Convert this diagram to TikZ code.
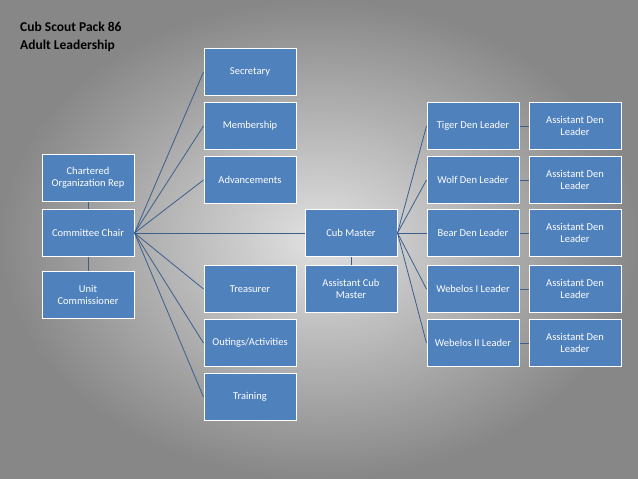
\documentclass[tikz,border=0pt]{standalone}
\usepackage{fontspec}
\setmainfont{Carlito}
\begin{document}
\begin{tikzpicture}[x=1pt,y=-1pt,
 box/.style={draw=white,line width=1pt,fill={rgb,255:red,79;green,129;blue,189},text=white,minimum width=92pt,minimum height=47pt,inner sep=1pt,align=center,font=\fontsize{10.5}{12.5}\selectfont},
 ln/.style={draw={rgb,255:red,60;green,95;blue,140},line width=0.8pt}]
\shade[inner color={rgb,255:red,225;green,225;blue,225},outer color={rgb,255:red,135;green,135;blue,135}] (0,0) rectangle (638,479);
\useasboundingbox (0,0) rectangle (638,479);
\node[anchor=north west,align=left,inner sep=0pt,font=\bfseries\fontsize{13.5}{18}\selectfont] (title) at (20,22) {Cub Scout Pack 86\\Adult Leadership};
\node[box] (cor) at (88,178) {Chartered\\Organization Rep};
\node[box] (cc) at (88,233) {Committee Chair};
\node[box] (uc) at (88,295) {Unit\\Commissioner};
\node[box] (sec) at (250,72) {Secretary};
\node[box] (mem) at (250,126) {Membership};
\node[box] (adv) at (250,180) {Advancements};
\node[box] (tre) at (250,289) {Treasurer};
\node[box] (out) at (250,343) {Outings/Activities};
\node[box] (tra) at (250,397) {Training};
\node[box] (cm) at (351,233) {Cub Master};
\node[box] (acm) at (351,289) {Assistant Cub\\Master};
\foreach \n/\t/\y in {ti/Tiger Den Leader/126,wo/Wolf Den Leader/180,be/Bear Den Leader/233,w1/Webelos I Leader/289,w2/Webelos II Leader/343}{
 \node[box] (\n) at (473,\y) {\t};
 \node[box] (a\n) at (575,\y) {Assistant Den\\Leader};
 \draw[ln] (\n.east) -- (a\n.west);
 \draw[ln] (cm.east) -- (\n.west);
}
\foreach \n in {sec,mem,adv,tre,out,tra} \draw[ln] (cc.east) -- (\n.west);
\draw[ln] (cc.east) -- (cm.west);
\draw[ln] (cor.south) -- (cc.north);
\draw[ln] (cc.south) -- (uc.north);
\draw[ln] (cm.south) -- (acm.north);
\end{tikzpicture}
\end{document}
